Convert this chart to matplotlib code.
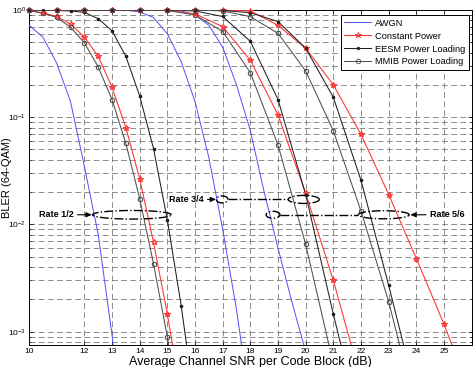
import numpy as np
import matplotlib
matplotlib.use('Agg')
import matplotlib.pyplot as plt

plt.rcParams['font.family'] = ['Liberation Sans', 'DejaVu Sans']
plt.rcParams['mathtext.fontset'] = 'custom'
plt.rcParams['mathtext.rm'] = 'Liberation Sans'
plt.rcParams['mathtext.it'] = 'Liberation Sans:italic'

# ---- data ----
# rate 1/2, 0.5 dB steps
snr_12 = [10.0, 10.5, 11.0, 11.5, 12.0, 12.5, 13.0, 13.5, 14.0, 14.5, 15.0, 15.5, 16.0]
awgn_12 = [0.72, 0.56, 0.32, 0.14, 0.035, 0.0081, 0.00093, 0.00006, np.nan, np.nan, np.nan, np.nan, np.nan]
const_12 = [0.99, 0.94, 0.87, 0.74, 0.56, 0.37, 0.19, 0.080, 0.0267, 0.0068, 0.00146, 0.00025, np.nan]
eesm_12 = [1.0, 1.0, 0.99, 0.98, 0.95, 0.83, 0.64, 0.37, 0.158, 0.051, 0.011, 0.00175, 0.0002]
mmib_12 = [0.99, 0.93, 0.855, 0.69, 0.495, 0.295, 0.146, 0.057, 0.0174, 0.0043, 0.00089, 0.00015, np.nan]

# AWGN for rate 3/4 and 5/6 (no markers)
snr_awgn34 = [13.0, 13.5, 14.0, 14.5, 15.0, 15.5, 16.0, 16.5, 17.0, 17.5, 18.0]
awgn_34 = [1.0, 0.995, 0.96, 0.85, 0.6, 0.33, 0.14, 0.042, 0.009, 0.0016, 0.0002]
snr_awgn56 = [15.0, 15.5, 16.0, 16.5, 17.0, 17.5, 18.0, 18.5, 19.0, 19.5, 20.0]
awgn_56 = [1.0, 0.98, 0.9, 0.72, 0.45, 0.2, 0.075, 0.02, 0.006, 0.0019, 0.00065]

# rate 3/4 and 5/6, 1 dB steps
snr_int = [10, 11, 12, 13, 14, 15, 16, 17, 18, 19, 20, 21, 22, 23, 24, 25, 26]
const_34 = [1.0, 1.0, 1.0, 1.0, 1.0, 0.99, 0.92, 0.70, 0.34, 0.105, 0.0195, 0.003, 0.00035,
            np.nan, np.nan, np.nan, np.nan]
eesm_34 = [1.0, 1.0, 1.0, 1.0, 1.0, 1.0, 0.98, 0.87, 0.51, 0.146, 0.019, 0.00145, 0.00013,
           np.nan, np.nan, np.nan, np.nan]
mmib_34 = [1.0, 1.0, 1.0, 1.0, 1.0, 0.99, 0.90, 0.63, 0.26, 0.055, 0.0065, 0.0005,
           np.nan, np.nan, np.nan, np.nan, np.nan]
const_56 = [1.0, 1.0, 1.0, 1.0, 1.0, 1.0, 1.0, 1.0, 0.98, 0.72, 0.44, 0.2, 0.069, 0.019,
            0.0048, 0.00117, 0.00025]
eesm_56 = [1.0, 1.0, 1.0, 1.0, 1.0, 1.0, 1.0, 0.99, 0.944, 0.78, 0.44, 0.153, 0.0257, 0.0027,
           0.00025, np.nan, np.nan]
mmib_56 = [1.0, 1.0, 1.0, 1.0, 1.0, 1.0, 1.0, 0.98, 0.867, 0.605, 0.27, 0.0745, 0.0133, 0.0019,
           0.00018, np.nan, np.nan]

x_ticks = [10, 12, 13, 14, 15, 16, 17, 18, 19, 20, 21, 22, 23, 24, 25]
y_min, y_max = 7.5e-4, 1.0

styles = {
    'AWGN': dict(color='#5050ff', lw=0.7, marker=None),
    'Constant Power': dict(color='#ff3a3a', lw=0.8, marker='*', ms=3.8, mfc='none', mew=0.7),
    'EESM Power Loading': dict(color='#202020', lw=0.75, marker='o', ms=1.9, mfc='#202020', mew=0.5),
    'MMIB Power Loading': dict(color='#505050', lw=0.75, marker='o', ms=3.2, mfc='none', mew=0.6),
}

fig = plt.figure(figsize=(4.74, 3.67), dpi=100)
ax = fig.add_axes([29 / 474, 1 - 345 / 367, 442.7 / 474, 335 / 367])


def draw(x, y, name, label=None):
    st = dict(styles[name])
    x = np.asarray(x, float)
    y = np.asarray(y, float)
    ok = ~np.isnan(y)
    ax.plot(x[ok], y[ok], label=label, zorder=3, **st)
    if st['marker'] is not None:
        m = ok & (y >= y_min)
        st.pop('lw')
        ax.plot(x[m], y[m], ls='none', clip_on=False, zorder=4, **st)


draw(snr_12, awgn_12, 'AWGN', 'AWGN')
draw(snr_12, const_12, 'Constant Power', 'Constant Power')
draw(snr_12, eesm_12, 'EESM Power Loading', 'EESM Power Loading')
draw(snr_12, mmib_12, 'MMIB Power Loading', 'MMIB Power Loading')
draw(snr_awgn34, awgn_34, 'AWGN')
draw(snr_awgn56, awgn_56, 'AWGN')
draw(snr_int, const_34, 'Constant Power')
draw(snr_int, eesm_34, 'EESM Power Loading')
draw(snr_int, mmib_34, 'MMIB Power Loading')
draw(snr_int, const_56, 'Constant Power')
draw(snr_int, eesm_56, 'EESM Power Loading')
draw(snr_int, mmib_56, 'MMIB Power Loading')

ax.set_yscale('log')
ax.set_xlim(10, 26)
ax.set_ylim(y_min, y_max)
ax.set_xticks(x_ticks)
ax.set_xticklabels([str(t) for t in x_ticks])

grid_kw = dict(color='#7a7a7a', lw=0.6, ls=(0, (7, 4)))
ax.grid(True, which='major', axis='both', **grid_kw)
ax.grid(True, which='minor', axis='y', **grid_kw)
ax.set_axisbelow(True)

ax.tick_params(which='both', direction='in', top=True, right=True, labelsize=6, pad=2)
ax.tick_params(which='major', length=3, width=0.5)
ax.tick_params(which='minor', length=1.5, width=0.5)
for s in ax.spines.values():
    s.set_linewidth(0.7)

ax.set_xlabel('Average Channel SNR per Code Block (dB)', fontsize=9, labelpad=1)
ax.set_ylabel('BLER (64-QAM)', fontsize=8)
ax.yaxis.set_label_coords(-0.05, 0.5)
ax.yaxis.label.set_va('center')

# ---- rate annotations ----
def ellipse(cx, cy, w, h_dec):
    t = np.linspace(0, 2 * np.pi, 100)
    ax.plot(cx + w / 2 * np.cos(t), cy * 10 ** (h_dec / 2 * np.sin(t)),
            color='k', lw=1.0, ls='-.', zorder=5)

arrow = dict(arrowstyle='-|>,head_length=0.5,head_width=0.22', color='k', lw=0.8,
             shrinkA=1, shrinkB=0)
txt = dict(fontsize=6.5, fontweight='bold', va='center')

# rate 1/2
y12 = 0.0123
ellipse(13.72, y12, 2.85, 0.08)
ax.annotate('Rate 1/2', xy=(12.27, y12), xytext=(11.6, y12), ha='right',
            arrowprops=arrow, **txt)

# rate 3/4
y34 = 0.0171
ellipse(16.98, y34, 0.42, 0.065)
ellipse(19.93, y34, 1.12, 0.075)
ax.plot([17.19, 19.37], [y34, y34], color='k', lw=1.0, ls='-.', zorder=5)
ax.annotate('Rate 3/4', xy=(16.76, y34), xytext=(16.3, y34), ha='right',
            arrowprops=arrow, **txt)

# rate 5/6
y56 = 0.0123
ellipse(18.82, y56, 0.5, 0.065)
ellipse(22.82, y56, 1.84, 0.075)
ax.plot([19.07, 21.9], [y56, y56], color='k', lw=1.0, ls='-.', zorder=5)
ax.annotate('Rate 5/6', xy=(23.78, y56), xytext=(24.5, y56), ha='left',
            arrowprops=arrow, **txt)

leg = ax.legend(loc='upper right', bbox_to_anchor=(0.994, 0.985), fontsize=6.7,
                fancybox=False, framealpha=1, edgecolor='k', borderaxespad=0,
                handlelength=2.9, handletextpad=0.4, labelspacing=0.42,
                borderpad=0.4, numpoints=1)
leg.get_frame().set_linewidth(0.7)
leg.set_zorder(10)

fig.savefig('out.png', dpi=100)
